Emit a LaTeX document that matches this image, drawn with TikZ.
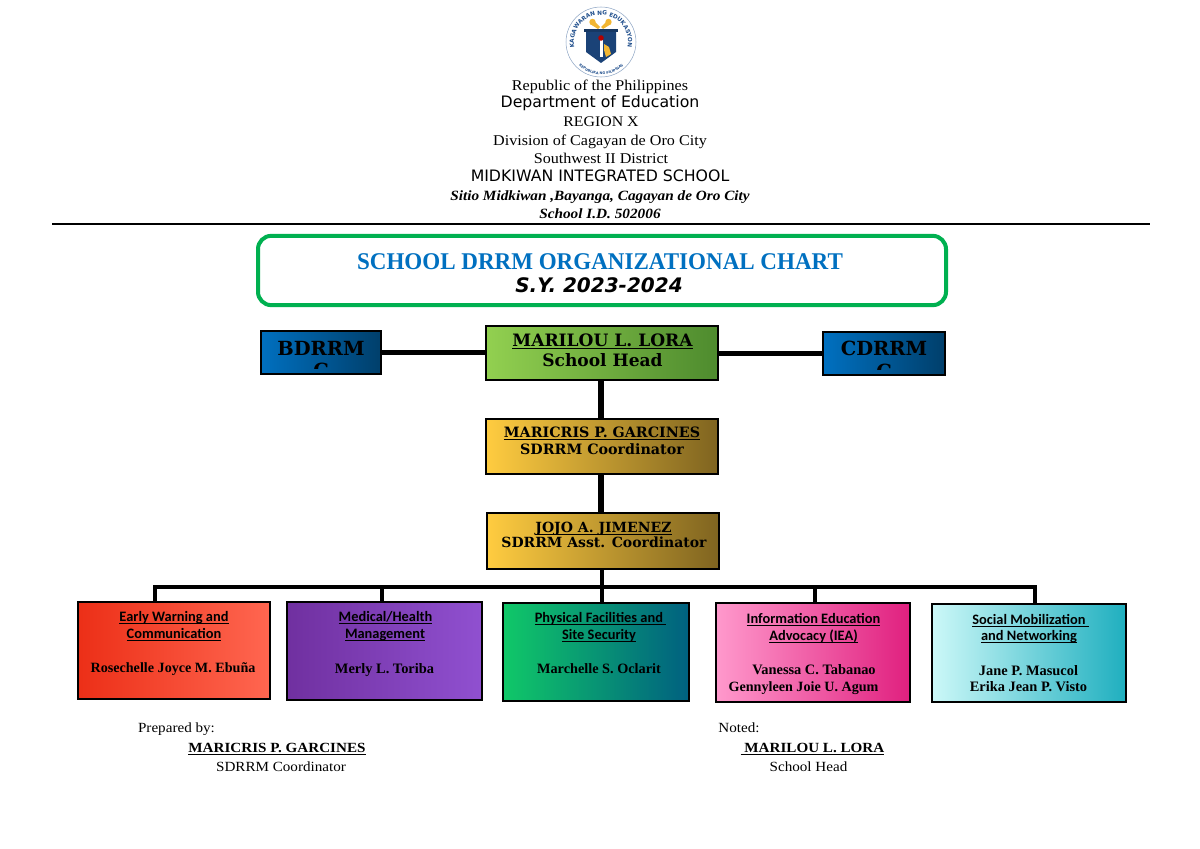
\documentclass[tikz,border=0pt]{standalone}
\usepackage{fontspec}
\setmainfont{Liberation Serif}
\newfontfamily\dvs{DejaVu Sans}
\newfontfamily\dvr{DejaVu Serif}
\newfontfamily\carl{Carlito}
\newfontfamily\wide[FakeStretch=1.08]{Liberation Serif}
\newfontfamily\slim[FakeStretch=0.96]{Liberation Serif}
\usetikzlibrary{decorations.text}
\newcommand{\sz}[1]{\fontsize{#1}{#1}\selectfont}
\newcommand{\ul}[1]{\underline{\smash{#1}}}
\definecolor{dgreen}{HTML}{00B050}
\definecolor{dblue}{HTML}{0070C0}
\definecolor{seal}{HTML}{1F4E8C}
\definecolor{gold}{HTML}{F2B632}
\tikzset{
  box/.style={draw=black,line width=1.5pt,inner sep=0pt},
  conn/.style={draw=black,line width=3.4pt,line cap=butt},
  thick conn/.style={draw=black,line width=4.3pt,line cap=butt},
  spine/.style={draw=black,line width=3.8pt,line cap=butt},
  txt/.style={anchor=base,inner sep=0pt,text=black},
}
\begin{document}
\begin{tikzpicture}[x=0.75pt,y=-0.75pt]
\useasboundingbox (0,0) rectangle (1200,849);
% seal
\draw[color=seal!50!white,line width=0.4pt] (601,42) circle (35);
\path[decorate,decoration={text along path,text align=center,text={|\dvs\sz{4.3pt}\bfseries\color{seal}|KAGAWARAN NG EDUKASYON}}] (577.6,55.5) arc (-210:30:27);
\path[decorate,decoration={text along path,text align=center,text={|\dvs\sz{2.6pt}\bfseries\color{seal}|REPUBLIKA NG PILIPINAS}}] (575,60.9) arc (-215:-325:32);
\fill[gold] (592.5,22) circle (3.2) (608.5,22) circle (3.2);
\fill[gold] (590,24) -- (593,20) -- (600,27) -- (598,29) -- cycle (611,24) -- (608,20) -- (601,27) -- (603,29) -- cycle;
\fill[seal!70!black] (584,29) rectangle (618,32);
\fill[color=seal!85!black] (586,32) -- (616,32) -- (616,52) -- (601,63) -- (586,52) -- cycle;
\fill[white] (599.5,40) rectangle (602.5,57);
\fill[red!70!black] (601,38) circle (2.8);
\fill[gold] (604,44) -- (609,47) -- (611,54) -- (606,57) -- (604,50) -- cycle;
% heading
\node[txt,font=\wide\sz{11.2pt}] (t1) at (600,90) {Republic of the Philippines};
\node[txt,font=\dvs\sz{11.8pt}] (t2) at (600,108) {Department of Education};
\node[txt,font=\wide\sz{11pt}] (t3) at (601,127) {REGION X};
\node[txt,font=\wide\sz{11.2pt}] (t4) at (600,145) {Division of Cagayan de Oro City};
\node[txt,font=\wide\sz{11.2pt}] (t5) at (601,163) {Southwest II District};
\node[txt,font=\dvs\sz{11.8pt}] (t6) at (600,181) {MIDKIWAN INTEGRATED SCHOOL};
\node[txt,font=\wide\bfseries\itshape\sz{10.6pt}] (t7) at (600,200) {Sitio Midkiwan ,Bayanga, Cagayan de Oro City};
\node[txt,font=\wide\bfseries\itshape\sz{10.6pt}] (t8) at (600,218) {School I.D. 502006};
\coordinate (ruleL) at (52,224);
\coordinate (ruleR) at (1150,224);
\draw[black,line width=2pt] (ruleL) -- (ruleR);
% title
\node[draw=dgreen,line width=3pt,rounded corners=10pt,minimum width=516pt,minimum height=52pt,inner sep=0pt] (title) at (602,270.5) {};
\node[txt,font=\slim\bfseries\sz{18pt},text=dblue] (title1) at (600,269) {SCHOOL DRRM ORGANIZATIONAL CHART};
\node[txt,font=\dvs\bfseries\itshape\sz{15pt}] (title2) at (599,292) {S.Y. 2023-2024};
% top boxes
\definecolor{hl}{HTML}{92D050}\definecolor{hr}{HTML}{4E8B2E}
\definecolor{gl}{HTML}{FFCC40}\definecolor{gr}{HTML}{7F6420}
\definecolor{bl}{HTML}{0070C0}\definecolor{br}{HTML}{003F6B}
\node[box,minimum width=90pt,minimum height=32pt,left color=bl,right color=br] (bd) at (320.5,352.5) {};
\node[box,minimum width=174pt,minimum height=41pt,left color=hl,right color=hr] (head) at (602,353) {};
\node[box,minimum width=91pt,minimum height=32pt,left color=bl,right color=br] (cd) at (884,353.5) {};
\node[box,minimum width=174pt,minimum height=41pt,left color=gl,right color=gr] (coord) at (602,446.5) {};
\node[box,minimum width=174pt,minimum height=42pt,left color=gl,right color=gr] (asst) at (603,540.5) {};
% lower boxes
\definecolor{c1l}{HTML}{EC2F17}\definecolor{c1r}{HTML}{FF6650}
\definecolor{c2l}{HTML}{7030A0}\definecolor{c2r}{HTML}{9050D0}
\definecolor{c3l}{HTML}{10C868}\definecolor{c3r}{HTML}{006080}
\definecolor{c4l}{HTML}{FF99CC}\definecolor{c4r}{HTML}{E0207F}
\definecolor{c5l}{HTML}{CCF8F8}\definecolor{c5r}{HTML}{1FAFBF}
\node[box,minimum width=144pt,minimum height=73pt,left color=c1l,right color=c1r] (b1) at (173.5,650.5) {};
\node[box,minimum width=146pt,minimum height=73pt,left color=c2l,right color=c2r] (b2) at (384.5,651) {};
\node[box,minimum width=140pt,minimum height=73pt,left color=c3l,right color=c3r] (b3) at (596,652) {};
\node[box,minimum width=145pt,minimum height=74pt,left color=c4l,right color=c4r] (b4) at (813,652.5) {};
\node[box,minimum width=145pt,minimum height=73pt,left color=c5l,right color=c5r] (b5) at (1029,653) {};
% connectors
\coordinate (spineX) at (601,400);
\coordinate (bus1) at (155,587);
\coordinate (bus2) at (382,587);
\coordinate (bus3) at (602,587);
\coordinate (bus4) at (815,587);
\coordinate (bus5) at (1035,587);
\draw[thick conn] (bd.east) -- (bd.east -| head.west);
\draw[thick conn] (cd.west -| head.east) -- (cd.west);
\draw[spine] (head.south -| spineX) -- (coord.north -| spineX);
\draw[spine] (coord.south -| spineX) -- (asst.north -| spineX);
\draw[conn] (asst.south -| bus3) -- (bus3);
\draw[conn,line cap=rect] (bus1) -- (bus5);
\draw[conn] (bus1) -- (bus1 |- b1.north);
\draw[conn] (bus2) -- (bus2 |- b2.north);
\draw[conn] (bus3) -- (bus3 |- b3.north);
\draw[conn] (bus4) -- (bus4 |- b4.north);
\draw[conn] (bus5) -- (bus5 |- b5.north);
% box texts
\node[txt,font=\dvr\bfseries\sz{14.6pt}] (bdT) at (321,355) {BDRRM};
\begin{scope}
\clip (260,362) rectangle (381,368);
\node[txt,font=\dvr\bfseries\sz{14.6pt}] (bdC) at (321,377) {C};
\end{scope}
\node[txt,font=\dvr\bfseries\sz{14.6pt}] (cdT) at (884,355) {CDRRM};
\begin{scope}
\clip (824,362) rectangle (944,369);
\node[txt,font=\dvr\bfseries\sz{14.6pt}] (cdC) at (884,378) {C};
\end{scope}
\node[txt,font=\dvr\bfseries\sz{12.8pt}] (headA) at (602.5,346) {\ul{MARILOU L. LORA}};
\node[txt,font=\dvr\bfseries\sz{12.8pt}] (headB) at (602.5,366) {School Head};
\node[txt,font=\dvr\bfseries\sz{10.7pt}] (coordA) at (602,437) {\ul{MARICRIS P. GARCINES}};
\node[txt,font=\dvr\bfseries\sz{10.7pt}] (coordB) at (602,454) {SDRRM Coordinator};
\node[txt,font=\dvr\bfseries\sz{10.5pt}] (asstA) at (603.5,532) {\ul{JOJO A. JIMENEZ}};
\node[txt,font=\dvr\bfseries\sz{10.5pt}] (asstB) at (604,547) {SDRRM Asst. Coordinator};
\node[txt,font=\carl\bfseries\sz{10.8pt}] (e1) at (174,621) {\ul{Early Warning and}};
\node[txt,font=\carl\bfseries\sz{10.8pt}] (e2) at (174,638) {\ul{Communication}};
\node[txt,font=\bfseries\sz{10.6pt}] (e3) at (173,672) {Rosechelle Joyce M. Ebuña};
\node[txt,font=\carl\bfseries\sz{10.8pt}] (m1) at (385.5,621) {\ul{Medical/Health}};
\node[txt,font=\carl\bfseries\sz{10.8pt}] (m2) at (385,638) {\ul{Management}};
\node[txt,font=\bfseries\sz{10.8pt}] (m4) at (384.5,673) {Merly L. Toriba};
\node[txt,font=\carl\bfseries\sz{10.8pt}] (p1) at (600.5,622) {\ul{Physical Facilities and }};
\node[txt,font=\carl\bfseries\sz{10.8pt}] (p2) at (599,639) {\ul{Site Security}};
\node[txt,font=\bfseries\sz{10.7pt}] (p3) at (599,673) {Marchelle S. Oclarit};
\node[txt,font=\carl\bfseries\sz{10.8pt}] (i1) at (813.5,623) {\ul{Information Education}};
\node[txt,font=\carl\bfseries\sz{10.8pt}] (i2) at (813.5,640) {\ul{Advocacy (IEA)}};
\node[txt,font=\bfseries\sz{10.8pt}] (i3) at (814,674) {Vanessa C. Tabanao};
\node[txt,font=\bfseries\sz{10.6pt}] (i4) at (803.5,691) {Gennyleen Joie U. Agum};
\node[txt,font=\carl\bfseries\sz{10.8pt}] (s1) at (1030.5,624) {\ul{Social Mobilization }};
\node[txt,font=\carl\bfseries\sz{10.8pt}] (s2) at (1029,640) {\ul{and Networking}};
\node[txt,font=\bfseries\sz{10.8pt}] (s3) at (1028.5,675) {Jane P. Masucol};
\node[txt,font=\bfseries\sz{10.8pt}] (s4) at (1028.5,691) {Erika Jean P. Visto};
% signatures
\node[txt,font=\wide\sz{10.5pt}] (sigA) at (176.5,732) {Prepared by:};
\node[txt,font=\wide\bfseries\sz{10.5pt}] (sigB) at (277,752) {\ul{MARICRIS P. GARCINES}};
\node[txt,font=\wide\sz{10.5pt}] (sigC) at (281,771) {SDRRM Coordinator};
\node[txt,font=\wide\sz{10.5pt}] (sigD) at (739,732) {Noted:};
\node[txt,font=\wide\bfseries\sz{10.5pt}] (sigE) at (812.5,752) {\ul{ MARILOU L. LORA}};
\node[txt,font=\wide\sz{10.5pt}] (sigF) at (808.5,771) {School Head};
\end{tikzpicture}
\end{document}
